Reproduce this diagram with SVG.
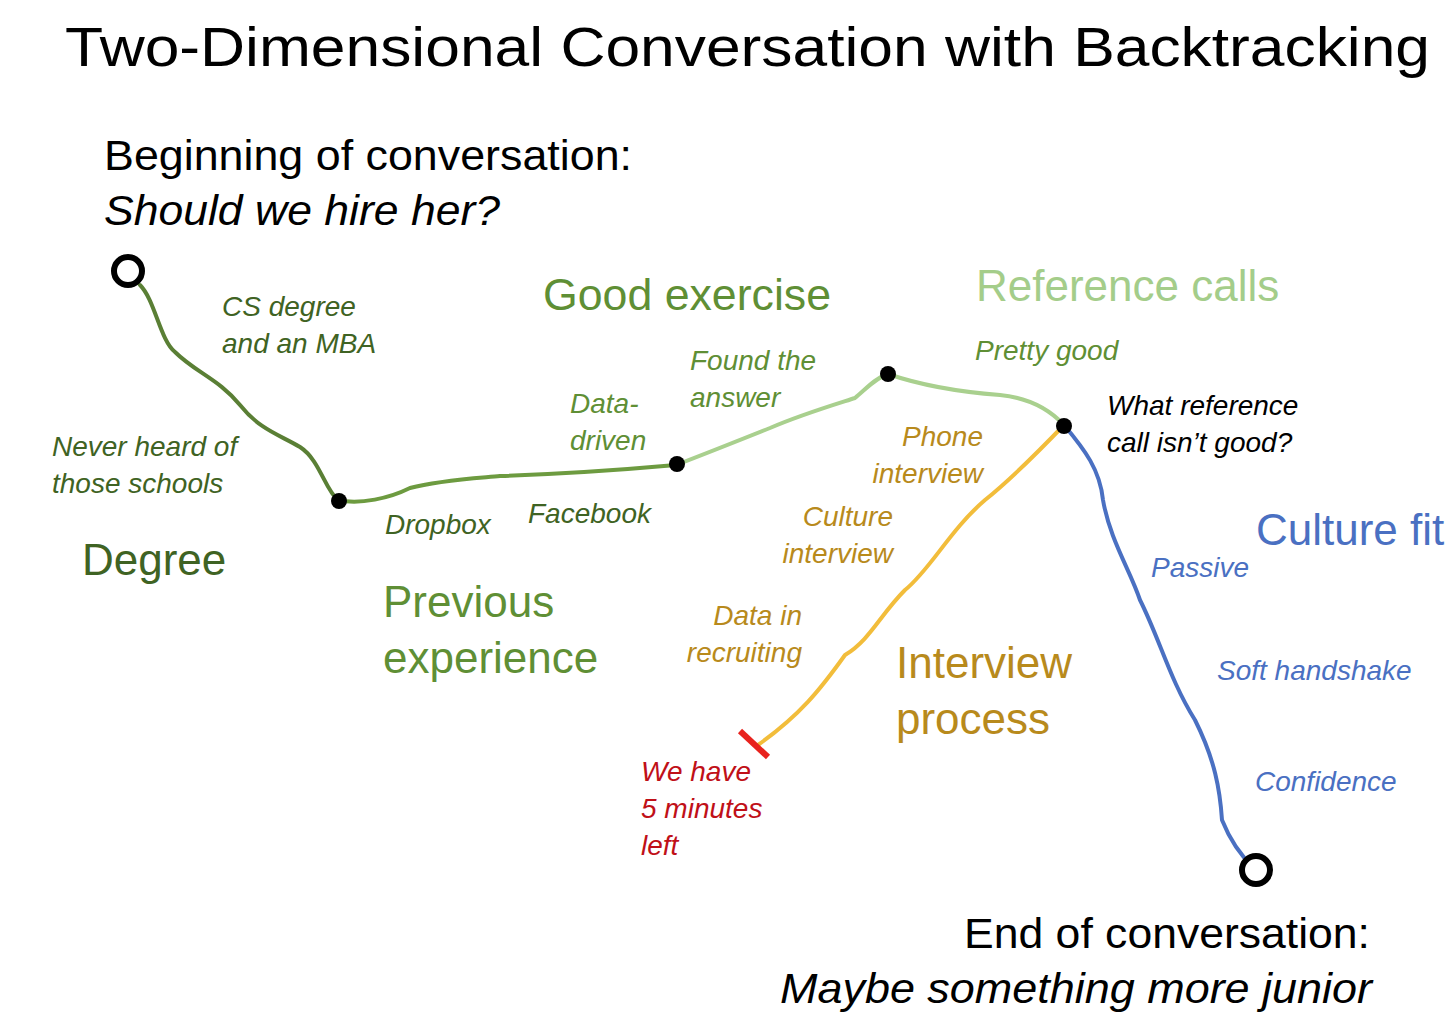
<svg xmlns="http://www.w3.org/2000/svg" width="1456" height="1036" viewBox="0 0 1456 1036">
<style>
text{font-family:"Helvetica Neue","Liberation Sans",Arial,sans-serif}
.i{font-style:italic}
.l{fill:none;stroke-width:4;stroke-linecap:round;stroke-linejoin:round}
.dg{fill:#3f6323}.g{fill:#5f8f35}.lg{fill:#a4cd8a}.o{fill:#b88a1c}.b{fill:#4a70c2}.r{fill:#c01018}.k{fill:#000}
</style>
<rect width="1456" height="1036" fill="#fff"/>
<text x="65" y="66" font-size="56" textLength="1365" lengthAdjust="spacingAndGlyphs">Two-Dimensional Conversation with Backtracking</text>
<text x="104" y="170" font-size="42" textLength="528" lengthAdjust="spacingAndGlyphs">Beginning of conversation:</text>
<text x="104" y="225" font-size="42" class="i" textLength="396" lengthAdjust="spacingAndGlyphs">Should we hire her?</text>
<text x="964" y="948" font-size="42" textLength="406" lengthAdjust="spacingAndGlyphs">End of conversation:</text>
<text x="780" y="1003" font-size="42" class="i" textLength="592" lengthAdjust="spacingAndGlyphs">Maybe something more junior</text>
<g id="connectors">
<path class="l" stroke="#5a7f35" d="M140,285 C155,300 160,340 175,352 C195,372 220,380 240,405 C260,430 280,435 300,447 C320,460 325,490 338,500"/>
<path class="l" stroke="#6d9b40" d="M338,500 C360,505 390,498 410,488 C440,480 480,478 500,476 C560,474 620,470 676,465"/>
<path class="l" stroke="#a9d08e" d="M676,465 C710,452 740,440 770,428 C800,415 830,406 855,398 C865,390 875,378 888,374 C920,385 960,392 1000,395 C1030,398 1050,410 1064,425"/>
<path class="l" stroke="#f2bd3b" d="M1064,425 C1040,450 1010,480 985,500 C950,530 930,570 905,590 C880,615 870,640 845,655 C820,690 800,715 758,745"/>
<path class="l" stroke="#4a70c2" d="M1064,425 C1085,450 1100,470 1103,500 C1110,540 1130,570 1140,600 C1160,640 1170,680 1195,720 C1215,760 1220,790 1222,820 C1230,840 1240,855 1254,868"/>
<line x1="740" y1="731" x2="768" y2="757" stroke="#e8231e" stroke-width="6"/>
</g>
<g id="start"><circle cx="128" cy="271" r="14" fill="#fff" stroke="#000" stroke-width="6"/></g>
<g id="end"><circle cx="1256" cy="870" r="14" fill="#fff" stroke="#000" stroke-width="6"/></g>
<g id="n1"><circle cx="339" cy="501" r="8" fill="#000"/></g>
<g id="n2"><circle cx="677" cy="464" r="8" fill="#000"/></g>
<g id="n3"><circle cx="888" cy="374" r="8" fill="#000"/></g>
<g id="n4"><circle cx="1064" cy="426" r="8" fill="#000"/></g>
<g id="labels">
<text x="222" y="316" font-size="28" class="i dg">CS degree</text>
<text x="222" y="353" font-size="28" class="i dg">and an MBA</text>
<text x="52" y="456" font-size="28" class="i dg">Never heard of</text>
<text x="52" y="493" font-size="28" class="i dg">those schools</text>
<text x="82" y="575" font-size="44" class="dg">Degree</text>
<text x="385" y="534" font-size="28" class="i dg">Dropbox</text>
<text x="528" y="523" font-size="28" class="i dg">Facebook</text>
<text x="570" y="413" font-size="28" class="i g">Data-</text>
<text x="570" y="450" font-size="28" class="i g">driven</text>
<text x="383" y="617" font-size="44" class="g">Previous</text>
<text x="383" y="673" font-size="44" class="g">experience</text>
<text x="543" y="310" font-size="44" class="g" textLength="288" lengthAdjust="spacingAndGlyphs">Good exercise</text>
<text x="690" y="370" font-size="28" class="i g">Found the</text>
<text x="690" y="407" font-size="28" class="i g">answer</text>
<text x="976" y="301" font-size="44" class="lg">Reference calls</text>
<text x="975" y="360" font-size="28" class="i g">Pretty good</text>
<text x="1107" y="415" font-size="28" class="i k">What reference</text>
<text x="1107" y="452" font-size="28" class="i k">call isn’t good?</text>
<text x="983" y="446" font-size="28" class="i o" text-anchor="end">Phone</text>
<text x="983" y="483" font-size="28" class="i o" text-anchor="end">interview</text>
<text x="893" y="526" font-size="28" class="i o" text-anchor="end">Culture</text>
<text x="893" y="563" font-size="28" class="i o" text-anchor="end">interview</text>
<text x="802" y="625" font-size="28" class="i o" text-anchor="end">Data in</text>
<text x="802" y="662" font-size="28" class="i o" text-anchor="end">recruiting</text>
<text x="896" y="678" font-size="44" class="o">Interview</text>
<text x="896" y="734" font-size="44" class="o">process</text>
<text x="641" y="781" font-size="28" class="i r">We have</text>
<text x="641" y="818" font-size="28" class="i r">5 minutes</text>
<text x="641" y="855" font-size="28" class="i r">left</text>
<text x="1256" y="545" font-size="44" class="b">Culture fit</text>
<text x="1151" y="577" font-size="28" class="i b">Passive</text>
<text x="1217" y="680" font-size="28" class="i b">Soft handshake</text>
<text x="1255" y="791" font-size="28" class="i b">Confidence</text>
</g>
</svg>
